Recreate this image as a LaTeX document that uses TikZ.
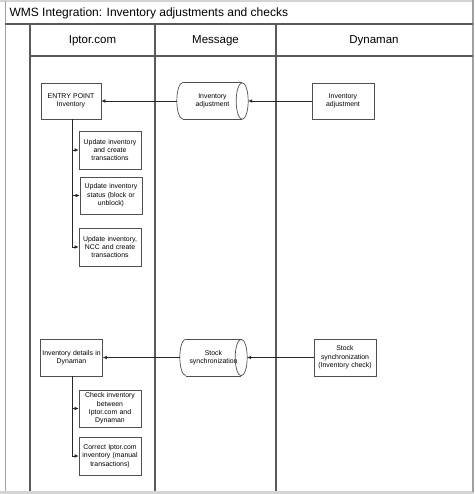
\documentclass[tikz,border=0pt]{standalone}
\usepackage{fontspec}
\setmainfont{Liberation Sans}
\usetikzlibrary{calc,arrows.meta}
\definecolor{frame}{HTML}{A0A0A0}
\definecolor{band}{HTML}{D4D4D4}
\definecolor{lane}{HTML}{5A5A5A}
\definecolor{boxc}{HTML}{505050}
\tikzset{
  boxn/.style={draw=boxc, line width=0.7pt, align=center, inner sep=1pt,
    font=\fontsize{6.9}{8.4}\selectfont, text=black},
  cyln/.style={draw=none, align=center, inner sep=1pt,
    font=\fontsize{6.9}{8.4}\selectfont, text=black},
  cylline/.style={draw=boxc, line width=0.7pt},
  lanel/.style={draw=lane, line width=1.2pt},
  arr/.style={draw=black!85, line width=0.6pt, -{Latex[length=4pt,width=3.6pt]}},
  hdr/.style={font=\fontsize{11.5}{13}\selectfont, text=black},
}
\newcommand{\mycyl}[1]{%
  \draw[cylline] ($(#1.north west)+(6,0)$) -- ($(#1.north east)+(-6,0)$);
  \draw[cylline] ($(#1.south west)+(6,0)$) -- ($(#1.south east)+(-6,0)$);
  \draw[cylline] ($(#1.east)+(-6,0)$) ellipse[x radius=6pt, y radius=18.25pt];
  \draw[cylline] ($(#1.north west)+(6,0)$) arc[start angle=90, end angle=270, x radius=6pt, y radius=18.25pt];
}
\begin{document}
\begin{tikzpicture}[x=1pt,y=-1pt]
\useasboundingbox (0,0) rectangle (474,494);
% outer frame
\fill[band] (0,490.5) rectangle (474,494);
\fill[band] (0,0) rectangle (474,1.8);
\fill[frame] (472.3,0) rectangle (474,492);
\draw[frame, line width=1pt] (5,1) -- (5,491);
% title
\node[anchor=west, font=\fontsize{12}{14}\selectfont] (title) at (6,13) {WMS Integration: Inventory adjustments and checks};
\draw[lanel] (5,24) -- (472.5,24);
% lanes
\draw[lanel] (30,24) -- (30,491);
\draw[lanel] (155,24) -- (155,491);
\draw[lanel] (276,24) -- (276,491);
\draw[lanel] (30,56) -- (472.5,56);
\node[hdr] (h1) at (92.5,40.5) {Iptor.com};
\node[hdr] (h2) at (215.5,40.5) {Message};
\node[hdr] (h3) at (374,40.5) {Dynaman};
% upper section
\node[boxn, minimum width=60pt, minimum height=36pt, text width=57pt] (entry) at (71,101) {ENTRY POINT\\Inventory};
\node[cyln, minimum width=71pt, minimum height=36.5pt, text width=56pt] (cyl1) at (212.5,101) {Inventory\\adjustment};
\mycyl{cyl1}
\node[boxn, minimum width=62pt, minimum height=36pt, text width=58pt] (dyn1) at (343,101) {Inventory\\adjustment};
\node[boxn, minimum width=62pt, minimum height=38pt, text width=60pt] (u1) at (110,150) {Update inventory\\and create\\transactions};
\node[boxn, minimum width=62pt, minimum height=37pt, text width=60pt] (u2) at (111,195.5) {Update inventory\\status (block or\\unblock)};
\node[boxn, minimum width=62pt, minimum height=38pt, text width=60pt] (u3) at (110,247) {Update inventory,\\NCC and create\\transactions};
\draw[arr] (dyn1.west) -- (cyl1.east);
\draw[arr] (cyl1.west) -- (entry.east);
\coordinate (t1) at ($(entry.south)+(1,0)$);
\draw[arr] (t1) |- (u1.west);
\draw[arr] (t1) |- (u2.west);
\draw[arr] (t1) |- (u3.west);
% lower section
\node[boxn, minimum width=61pt, minimum height=37pt, text width=60pt] (det) at (71.5,357.5) {Inventory details in\\Dynaman};
\node[cyln, minimum width=67pt, minimum height=36.5pt, text width=58pt] (cyl2) at (213.5,357.5) {Stock\\synchronization};
\mycyl{cyl2}
\node[boxn, minimum width=62pt, minimum height=37pt, text width=60pt] (dyn2) at (345,357.5) {Stock\\synchronization\\(Inventory check)};
\node[boxn, minimum width=62pt, minimum height=37pt, text width=60pt] (c1) at (110,408.5) {Check inventory\\between\\Iptor.com and\\Dynaman};
\node[boxn, minimum width=62pt, minimum height=38pt, text width=60pt] (c2) at (110,456) {Correct Iptor.com\\inventory (manual\\transactions)};
\draw[arr] (dyn2.west) -- (cyl2.east);
\draw[arr] (cyl2.west) -- (det.east);
\coordinate (t2) at ($(det.south)+(0.5,0)$);
\draw[arr] (t2) |- (c1.west);
\draw[arr] (t2) |- (c2.west);
\end{tikzpicture}
\end{document}
